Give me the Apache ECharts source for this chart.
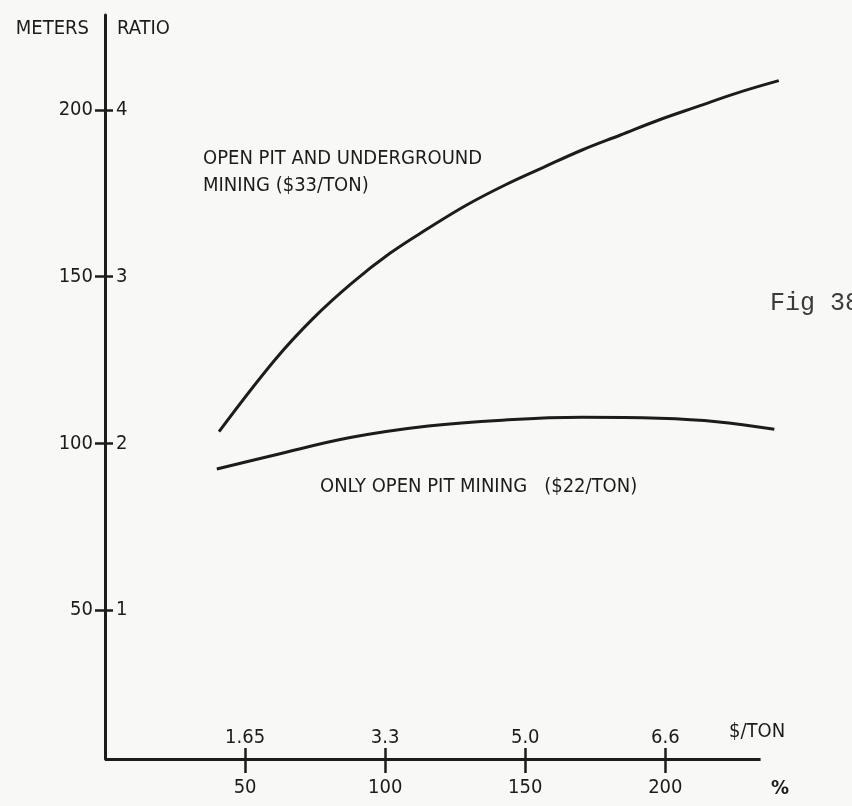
<!DOCTYPE html>
<html>
<head>
<meta charset="utf-8">
<script src="https://cdn.jsdelivr.net/npm/echarts@6/dist/echarts.min.js"></script>
<style>
html,body{margin:0;padding:0;background:#f8f8f6;}
#chart{width:852px;height:806px;}
</style>
</head>
<body>
<div id="chart"></div>
<script>
// ---- data ----
const pctTicks = [50, 100, 150, 200];
const costTicks = ['1.65', '3.3', '5.0', '6.6'];
const meterTicks = [50, 100, 150, 200];
const ratioTicks = ['1', '2', '3', '4'];

const underX = [40.7, 60.6, 74.3, 88.0, 101.7, 115.4, 129.1, 142.8, 156.5, 170.3, 184.0, 197.7, 211.4, 225.2, 240.5];
const underY = [103.5, 125.0, 137.5, 148.0, 157.0, 164.5, 171.5, 177.5, 182.8, 188.0, 192.5, 197.0, 201.0, 205.0, 208.8];

const openX = [39.9, 60.6, 88.0, 115.4, 142.8, 170.3, 197.7, 218.3, 238.9];
const openY = [92.3, 96.5, 101.8, 105.2, 107.0, 107.8, 107.5, 106.5, 104.2];

const underLabel = ['OPEN PIT AND UNDERGROUND', 'MINING ($33/TON)'];
const openLabel = 'ONLY OPEN PIT MINING   ($22/TON)';
const figLabel = 'Fig 38';

// ---- chart ----
const FONT = '"Liberation Sans Narrow", "DejaVu Sans Condensed", "Roboto", sans-serif';
const INK = '#1c1c1c';
const X_MIN = 0, X_MAX = 242, X_AXIS_END = 234, Y_MIN = 5.3, Y_MAX = 228.5;

const pairs = (xs, ys) => xs.map((x, i) => [x, ys[i]]);
const lbl = { color: INK, fontFamily: FONT, fontSize: 20 };
const tickStyle = { color: INK, width: 2.5 };

const chart = echarts.init(document.getElementById('chart'), null, { renderer: 'canvas' });
chart.setOption({
  backgroundColor: '#f8f8f6',
  animation: false,
  grid: { left: 105, right: 69, top: 15, bottom: 47, containLabel: false },
  xAxis: [
    {
      type: 'value', min: X_MIN, max: X_MAX, position: 'bottom',
      axisLine: { show: false }, splitLine: { show: false },
      axisTick: { show: true, customValues: pctTicks, length: 14, lineStyle: tickStyle },
      axisLabel: Object.assign({ customValues: pctTicks, margin: 19 }, lbl),
      name: '%', nameLocation: 'end', nameGap: -12,
      nameTextStyle: Object.assign({ verticalAlign: 'top', padding: [20, 0, 0, 0], fontWeight: 'bold' }, lbl)
    },
    {
      type: 'value', min: X_MIN, max: X_MAX, position: 'bottom',
      axisLine: { show: false }, splitLine: { show: false },
      axisTick: { show: true, inside: true, customValues: pctTicks, length: 11, lineStyle: tickStyle },
      axisLabel: Object.assign({ customValues: pctTicks, inside: true, margin: 11,
        formatter: v => costTicks[pctTicks.indexOf(v)] }, lbl),
      name: '$/TON', nameLocation: 'end', nameGap: -54,
      nameTextStyle: Object.assign({ verticalAlign: 'bottom', padding: [0, 0, 17, 0] }, lbl)
    }
  ],
  yAxis: [
    {
      type: 'value', min: Y_MIN, max: Y_MAX, position: 'left',
      axisLine: { show: true, lineStyle: { color: INK, width: 3 } }, splitLine: { show: false },
      axisTick: { show: true, customValues: meterTicks, length: 10, lineStyle: tickStyle },
      axisLabel: Object.assign({ customValues: meterTicks, margin: 12 }, lbl),
      name: 'METERS', nameLocation: 'end', nameGap: -14,
      nameTextStyle: Object.assign({ align: 'right', verticalAlign: 'middle', padding: [0, 16, 0, 0] }, lbl)
    },
    {
      type: 'value', min: Y_MIN, max: Y_MAX, position: 'left',
      axisLine: { show: false }, splitLine: { show: false },
      axisTick: { show: true, inside: true, customValues: meterTicks, length: 8, lineStyle: tickStyle },
      axisLabel: Object.assign({ customValues: meterTicks, inside: true, margin: 11,
        formatter: v => ratioTicks[meterTicks.indexOf(v)] }, lbl),
      name: 'RATIO', nameLocation: 'end', nameGap: -14,
      nameTextStyle: Object.assign({ align: 'left', verticalAlign: 'middle', padding: [0, 0, 0, 12] }, lbl)
    }
  ],
  series: [
    {
      name: underLabel.join(' '), type: 'line', xAxisIndex: 0, yAxisIndex: 0,
      data: pairs(underX, underY), smooth: 0.4, showSymbol: false, clip: false,
      lineStyle: { color: INK, width: 3 },
      // horizontal axis line, drawn in data space so it stops short of the grid edge
      markLine: {
        silent: true, symbol: ['none', 'none'], label: { show: false },
        lineStyle: { color: INK, width: 3, type: 'solid' },
        data: [[{ coord: [X_MIN, Y_MIN] }, { coord: [X_AXIS_END, Y_MIN] }]]
      }
    },
    {
      name: openLabel, type: 'line', xAxisIndex: 0, yAxisIndex: 0,
      data: pairs(openX, openY), smooth: 0.4, showSymbol: false, clip: false,
      lineStyle: { color: INK, width: 3 }
    }
  ],
  graphic: [
    { type: 'text', left: 203, top: 145,
      style: { text: underLabel.join('\n'), fill: INK, font: '20px ' + FONT, lineHeight: 27 } },
    { type: 'text', left: 320, top: 477,
      style: { text: openLabel, fill: INK, font: '20px ' + FONT, whiteSpace: 'pre' } },
    { type: 'text', left: 770, top: 291,
      style: { text: figLabel, fill: '#3a3a3a', font: '25px "Liberation Mono", "DejaVu Sans Mono", monospace' } }
  ]
});
</script>
</body>
</html>
